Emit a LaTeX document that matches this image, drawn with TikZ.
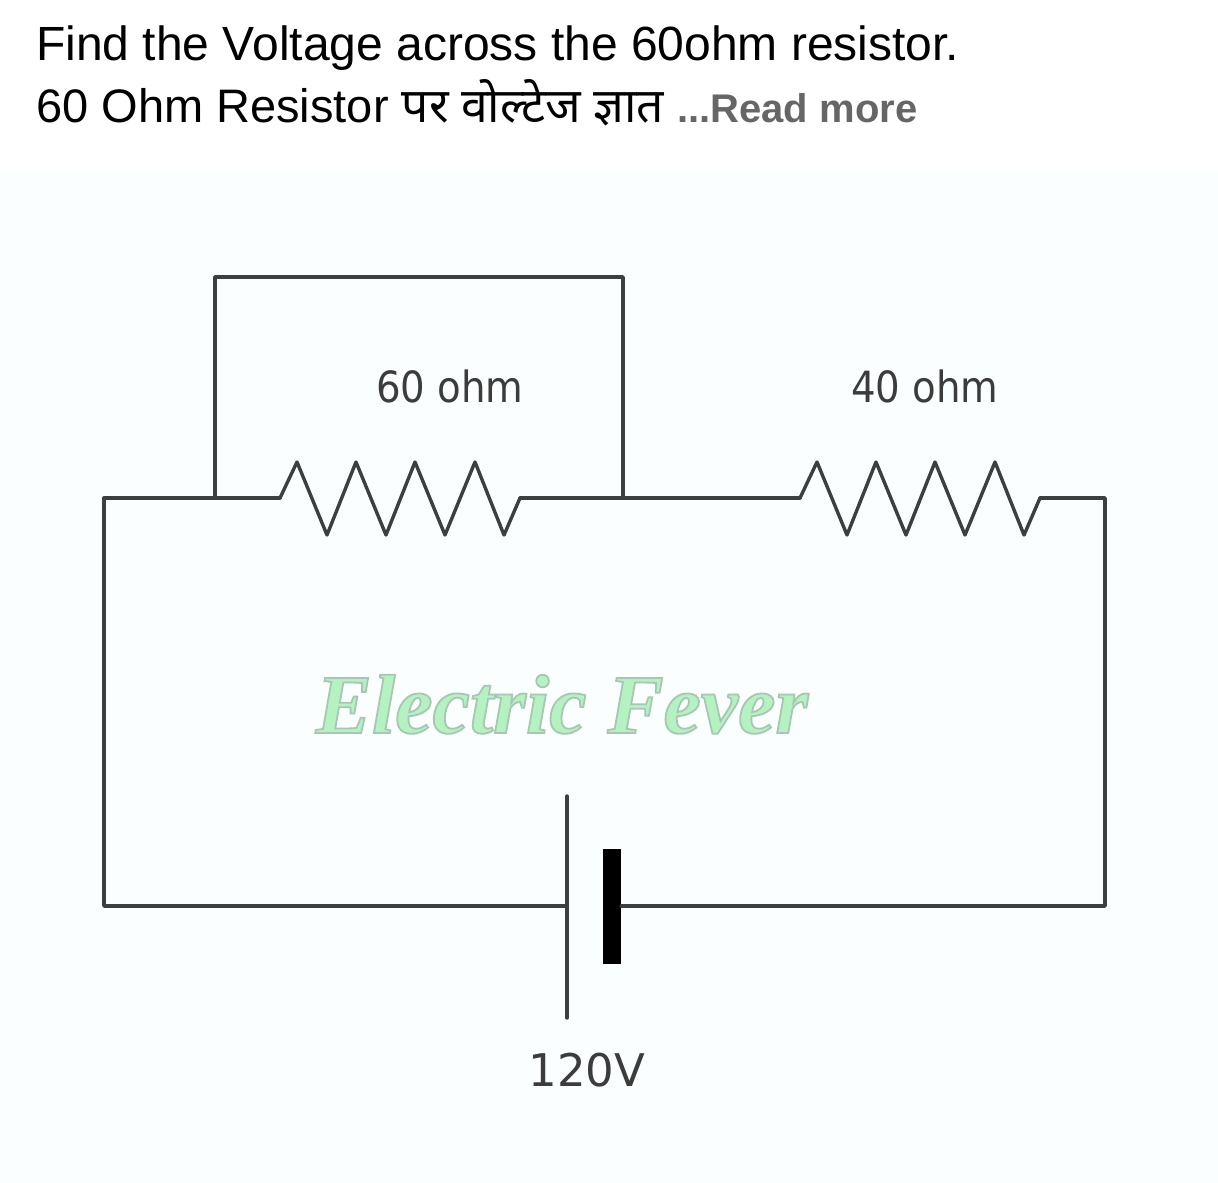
\documentclass[tikz,border=0pt]{standalone}
\usepackage{fontspec}
\setmainfont{Liberation Sans}
\newfontfamily\hindifont[Script=Devanagari]{Noto Sans}
\newfontfamily\labelfont{DejaVu Sans}
\newfontfamily\ohmfont{DejaVu Sans Condensed}
\newfontfamily\markfont{Liberation Serif}
\usetikzlibrary{positioning,calc}
\definecolor{panelbg}{HTML}{FBFEFE}
\definecolor{wirecol}{HTML}{3A4040}
\definecolor{moregrey}{HTML}{666666}
\definecolor{labelgrey}{HTML}{3C3C3C}
\definecolor{markgreen}{HTML}{B4F2C2}
\newcommand{\markoutline}[1]{\special{pdf:code q 2 Tr 1.8 w 0.66 0.78 0.70 RG}#1\special{pdf:code Q}}

\begin{document}
\begin{tikzpicture}[
x = 1pt,
y = -1pt,
title/.style = {
	inner sep = 0pt,
	anchor = base west,
	text = black,
	font = \fontsize{48}{48}\selectfont
},
value/.style = {
	inner sep = 0pt,
	anchor = base,
	text = labelgrey,
	font = \ohmfont\fontsize{43}{43}\selectfont
},
watermark/.style = {
	inner sep = 0pt,
	anchor = base,
	text = markgreen,
	font = \markfont\bfseries\itshape\fontsize{84}{84}\selectfont
},
wire/.style = {
	draw = wirecol,
	line width = 3.4pt,
	line cap = round,
	line join = round
},
resistor/.pic = {
	\draw [wire] (0,0) -- (17,-36) -- (47,37) -- (76,-36) -- (106,37) -- (135,-36) -- (165,37) -- (195,-36) -- (224,37) -- (240,0);
}
]

\useasboundingbox (0,0) rectangle (1218,1183);
\fill [panelbg] (0,172) rectangle (1218,1183);

\node (titleone) [title] at (36,60) {Find the Voltage across the 60ohm resistor.};
\node (titletwo) [title, below = 62pt of titleone.base west, anchor = base west, font = \fontsize{47}{47}\selectfont] {60 Ohm Resistor {\hindifont\fontsize{48}{48}\selectfont पर वोल्टेज ज्ञात} {\fontsize{40}{40}\selectfont\bfseries\color{moregrey}...Read more}};

\coordinate (lefttop) at (104,498);
\coordinate (leftbottom) at (104,906);
\coordinate (righttop) at (1105,498);
\coordinate (rightbottom) at (1105,906);
\coordinate (shortleft) at (215,498);
\coordinate (shortright) at (623,498);
\coordinate (shortupleft) at (215,277);
\coordinate (shortupright) at (623,277);
\coordinate (sixtyin) at (280,498);
\coordinate (sixtyout) at (520,498);
\coordinate (fortyin) at (800,498);
\coordinate (fortyout) at (1040,498);
\coordinate (platetop) at (567,796);
\coordinate (platebottom) at (567,1018);
\coordinate (platemid) at (567,906);

\node (thick) [fill = black, inner sep = 0pt, minimum width = 18pt, minimum height = 115pt] at (612,906) {};

\pic at (sixtyin) {resistor};
\pic at (fortyin) {resistor};

\draw [wire] (lefttop) -- (sixtyin);
\draw [wire] (sixtyout) -- (fortyin);
\draw [wire] (fortyout) -- (righttop) -- (rightbottom) -- (thick.east);
\draw [wire] (lefttop) -- (leftbottom) -- (platemid);
\draw [wire] (shortleft) -- (shortupleft) -- (shortupright) -- (shortright);
\draw [wire] (platetop) -- (platebottom);

\node (sixtylabel) [value, above = 96pt of sixtyin, xshift = 170pt, anchor = base] {60 ohm};
\node (fortylabel) [value, above = 96pt of fortyin, xshift = 125pt, anchor = base] {40 ohm};
\node (voltage) [value, below = 180pt of platemid, xshift = 20pt, anchor = base, font = \labelfont\fontsize{45}{45}\selectfont] {120V};
\node (mark) [watermark] at (562,733) {\markoutline{Electric Fever}};

\end{tikzpicture}
\end{document}
